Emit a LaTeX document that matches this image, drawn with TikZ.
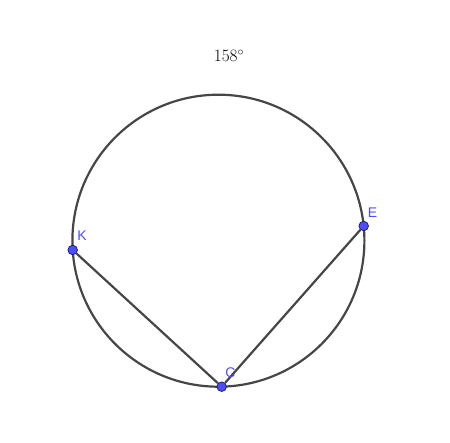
\documentclass[tikz,border=0pt]{standalone}
\usepackage{fontspec}
\newfontfamily\labelfont{Liberation Sans}
\usepackage{tikz}
\usetikzlibrary{arrows.meta}

\definecolor{lineGray}{RGB}{70,70,70}
\definecolor{pointBlue}{RGB}{77,77,255}
\definecolor{pointEdge}{RGB}{30,30,110}

\begin{document}
\begin{tikzpicture}[x=1pt,y=-1pt]
	\useasboundingbox (0,0) rectangle (450,443);
	\coordinate (O) at (218.4,240.7);
	\draw [lineGray, line width=2.2pt] (O) circle (146);
	\node [font=\fontsize{17.5}{20}\selectfont] (arc) at (229,56) {$158^\circ$};
	\begin{scope}[every node/.style = {circle, fill=pointBlue, draw=pointEdge,
			line width=0.8pt, inner sep=0pt, minimum size=9.5pt}]
		\node (K) at (72.7,250) {};
		\node (E) at (363.7,226) {};
		\node (C) at (221.7,386.7) {};
	\end{scope}
	\begin{scope}[every edge/.style={draw=lineGray, line width=2.2pt}]
		\path [-] (K) edge (C);
		\path [-] (C) edge (E);
	\end{scope}
	\begin{scope}[every node/.style = {text=pointBlue,
			font=\labelfont\fontsize{14}{16}\selectfont}]
		\node (labK) at (82,235.5) {K};
		\node (labE) at (372.5,212.5) {E};
		\node (labC) at (230.5,373) {C};
	\end{scope}
\end{tikzpicture}
\end{document}
